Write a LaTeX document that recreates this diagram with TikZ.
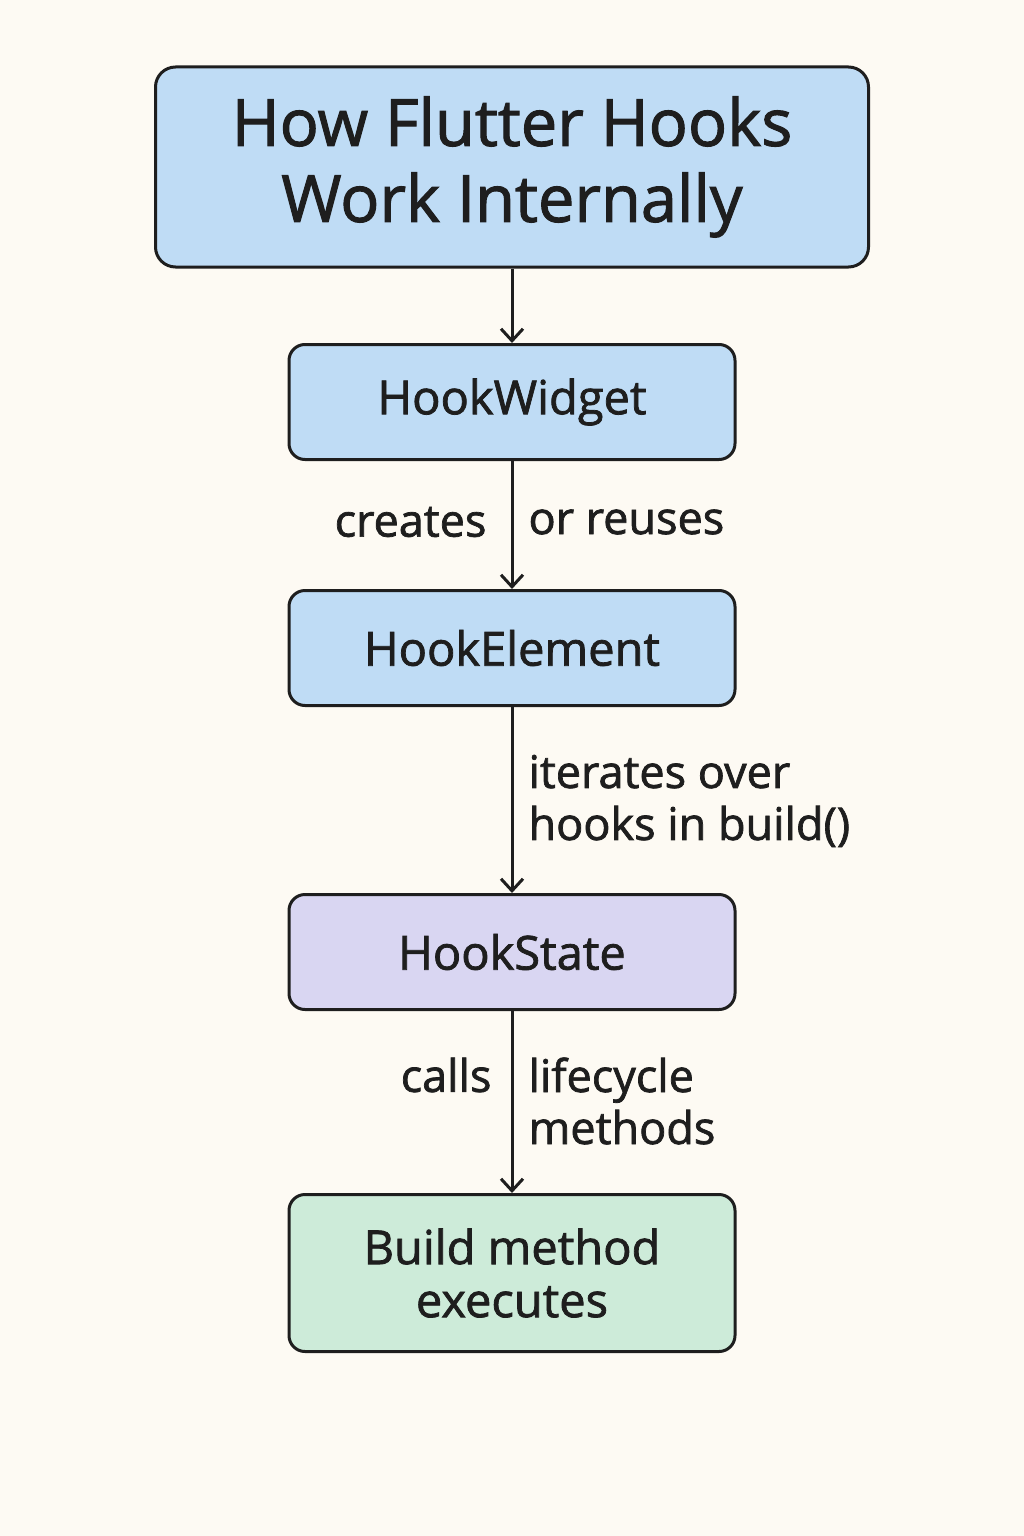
\documentclass[tikz,border=0pt]{standalone}
\usepackage{fontspec}
\setmainfont{Open Sans}[BoldFont=Open Sans, BoldFeatures={FakeBold=1.6}]
\usetikzlibrary{arrows.meta}
\definecolor{bg}{HTML}{FDFAF3}
\definecolor{bluef}{HTML}{BFDCF5}
\definecolor{purf}{HTML}{D9D6F2}
\definecolor{greenf}{HTML}{CDEBD9}
\definecolor{ink}{HTML}{1E1E1E}
\begin{document}
\begin{tikzpicture}[x=1pt,y=-1pt,
 box/.style={draw=ink,line width=3pt,rounded corners=16pt,minimum width=446pt,minimum height=115pt,align=center,font=\fontsize{47}{53}\selectfont\bfseries,text=ink},
 arr/.style={draw=ink,line width=3pt,-{Straight Barb[length=12pt,width=22pt,line width=3pt]}},
 lbl/.style={font=\fontsize{45}{52}\selectfont\bfseries,text=ink,align=left}]
\fill[bg] (0,0) rectangle (1024,1536);
\useasboundingbox (0,0) rectangle (1024,1536);
\node[box,fill=bluef,minimum width=713pt,minimum height=200pt,font=\fontsize{65}{76}\selectfont\bfseries,rounded corners=20pt] (t) at (512,167) {How Flutter Hooks\\Work Internally};
\node[box,fill=bluef] (w) at (512,402) {HookWidget};
\node[box,fill=bluef] (e) at (512,648) {HookElement};
\node[box,fill=purf] (s) at (512,952) {HookState};
\node[box,fill=greenf,minimum height=157pt] (b) at (512,1273) {Build method\\executes};
\draw[arr] (t) -- (w);
\draw[arr] (w) -- (e);
\draw[arr] (e) -- (s);
\draw[arr] (s) -- (b);
\node[lbl,anchor=east] (l1) at (490,522) {creates};
\node[lbl,anchor=west] (l2) at (525,522) {or reuses};
\node[lbl,anchor=west] (l3) at (525,801) {iterates over\\hooks in build()};
\node[lbl,anchor=east] (l4) at (495,1075) {calls};
\node[lbl,anchor=west] (l5) at (525,1101) {lifecycle\\methods};
\end{tikzpicture}
\end{document}
